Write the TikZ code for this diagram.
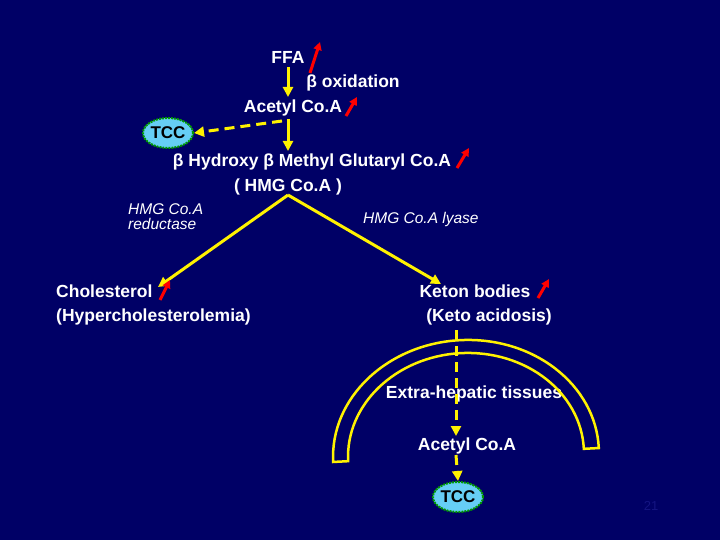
\documentclass[tikz,border=0pt]{standalone}
\usepackage{fontspec}
\setmainfont{Liberation Sans}
\usetikzlibrary{arrows.meta,shapes.geometric}
\begin{document}
\begin{tikzpicture}[x=1pt,y=-1pt,
  txt/.style={text=white,font=\bfseries\fontsize{17.5}{19}\selectfont,inner sep=1pt},
  itx/.style={text=white,font=\itshape\fontsize{15.5}{15}\selectfont,inner sep=1pt,align=left},
  yarr/.style={draw=yellow,line width=3pt,-{Triangle[length=10pt,width=10pt]}},
  ydash/.style={yarr,dash pattern=on 10pt off 6pt},
  redarr/.style={draw=red,line width=3pt,-{Triangle[length=8pt,width=8pt]}},
  tcc/.style={ellipse,fill=cyan!60!white,draw=green!60!black,densely dotted,line width=2pt,minimum width=50pt,minimum height=30pt,inner sep=0pt,font=\bfseries\fontsize{17}{18}\selectfont,text=black}]
\useasboundingbox (0,0) rectangle (720,540);
\fill[fill={rgb,255:red,0;green,0;blue,102}] (0,0) rectangle (720,540);
\node[txt] (ffa) at (288,57) {FFA};
\node[txt] (box) at (353,83) {β oxidation};
\node[txt] (ac1) at (293,108) {Acetyl Co.A};
\node[tcc] (tcc1) at (168,133) {TCC};
\node[txt] (hmg) at (312,162) {β Hydroxy β Methyl Glutaryl Co.A};
\node[txt] (hmg2) at (288,187) {( HMG Co.A )};
\node[itx,anchor=west] (red) at (127,217) {HMG Co.A\\reductase};
\node[itx,anchor=west] (lya) at (362,219) {HMG Co.A lyase};
\node[txt,anchor=west] (chol) at (55,291) {Cholesterol};
\node[txt,anchor=west] (hyp) at (55,317) {(Hypercholesterolemia)};
\node[txt] (ket) at (475,291) {Keton bodies};
\node[txt] (keto) at (489,317) {(Keto acidosis)};
\node[txt] (ext) at (474,394) {Extra-hepatic tissues};
\node[txt] (ac2) at (467,446) {Acetyl Co.A};
\node[tcc] (tcc2) at (458,497) {TCC};
\node[text={rgb,255:red,20;green,20;blue,130},font=\fontsize{13}{14}\selectfont] (pg) at (651,506) {21};
% arc
\begin{scope}[rotate around={3:(466,455)}]
\draw[yellow,line width=2.5pt] (333,455) arc[start angle=180,end angle=360,x radius=133,y radius=115]
 -- ++(-15,0) arc[start angle=360,end angle=180,x radius=118,y radius=102] -- cycle;
\end{scope}
% connectors
\coordinate (fb) at (288,67);
\coordinate (ab) at (288,119);
\draw[yarr] (fb) -- (288,97);
\draw[yarr] (ab) -- (288,151);
\draw[ydash] (282,121) -- (tcc1.east);
\coordinate (hb) at (288,195);
\draw[yarr] (hb) -- (158,287);
\draw[yarr] (hb) -- (441,284);
\draw[ydash] (456,330) -- (456,436);
\draw[ydash] (456,455) -- (tcc2.north);
% red arrows
\draw[redarr] (310,73) -- (320,42);
\draw[redarr] (346,116) -- (357,97);
\draw[redarr] (457,168) -- (469,148);
\draw[redarr] (160,300) -- (170,280);
\draw[redarr] (538,298) -- (549,279);
\end{tikzpicture}
\end{document}
